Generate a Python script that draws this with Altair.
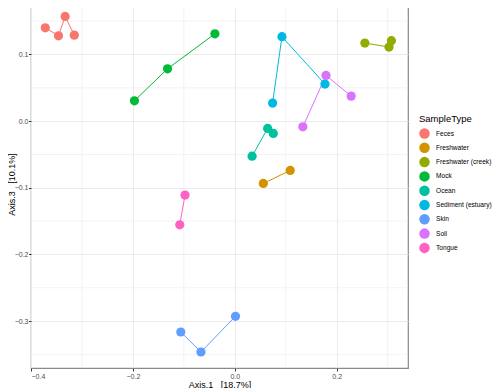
import altair as alt
import pandas as pd

sample_type = (["Feces"] * 4 + ["Freshwater"] * 2 + ["Freshwater (creek)"] * 3 + ["Mock"] * 3
               + ["Ocean"] * 3 + ["Sediment (estuary)"] * 3 + ["Skin"] * 3 + ["Soil"] * 3 + ["Tongue"] * 2)
axis1 = [-0.372, -0.346, -0.333, -0.315,
         0.056, 0.1088,
         0.2553, 0.3074, 0.3027,
         -0.197, -0.132, -0.039,
         0.0645, 0.0756, 0.034,
         0.0926, 0.0742, 0.177,
         -0.106, -0.0664, 0.0014,
         0.179, 0.2285, 0.1336,
         -0.0977, -0.108]
axis3 = [0.140, 0.128, 0.157, 0.129,
         -0.0935, -0.074,
         0.1171, 0.1206, 0.1111,
         0.0305, 0.0785, 0.131,
         -0.011, -0.0185, -0.0526,
         0.1266, 0.027, 0.0556,
         -0.3164, -0.3464, -0.2928,
         0.0686, 0.0375, -0.0086,
         -0.111, -0.1556]

categories = ["Feces", "Freshwater", "Freshwater (creek)", "Mock", "Ocean",
              "Sediment (estuary)", "Skin", "Soil", "Tongue"]
palette = ["#F8766D", "#D39200", "#93AA00", "#00BA38", "#00C19F",
           "#00B9E3", "#619CFF", "#DB72FB", "#FF61C3"]

x_major = [-0.4, -0.2, 0.0, 0.2]
y_major = [-0.3, -0.2, -0.1, 0.0, 0.1]
x_minor = [-0.3, -0.1, 0.1, 0.3]
y_minor = [-0.35, -0.25, -0.15, -0.05, 0.05, 0.15]

df = pd.DataFrame({"SampleType": sample_type, "Axis1": axis1, "Axis3": axis3})
xgrid = pd.DataFrame({"v": x_minor})
ygrid = pd.DataFrame({"v": y_minor})

x_dom = [-0.400, 0.340]
y_dom = [-0.3704, 0.1817]

xscale = alt.Scale(domain=x_dom, nice=False, zero=False, padding=0)
yscale = alt.Scale(domain=y_dom, nice=False, zero=False, padding=0)

xaxis = alt.Axis(title="Axis.1\u00a0\u00a0\u00a0[18.7%]", values=x_major, format=".1f",
                 grid=True, gridColor="#EBEBEB", gridWidth=1, domain=False,
                 tickColor="#333333", tickSize=3, labelColor="#4D4D4D", labelFontSize=7,
                 labelPadding=1, titleFontSize=9, titleFontWeight="normal", titleColor="#000000",
                 titlePadding=1)
yaxis = alt.Axis(title="Axis.3\u00a0\u00a0\u00a0[10.1%]", values=y_major, format=".1f",
                 grid=True, gridColor="#EBEBEB", gridWidth=1, domain=False,
                 tickColor="#333333", tickSize=2.5, labelColor="#4D4D4D", labelFontSize=7,
                 labelPadding=0.5, titleFontSize=9, titleFontWeight="normal", titleColor="#000000",
                 titleX=-15, titleY=184, titleAngle=270, titleBaseline="bottom", titleAlign="center")

legend = alt.Legend(title="SampleType", orient="none", legendX=388, legendY=114,
                    symbolType="circle", symbolSize=110, symbolStrokeWidth=0,
                    labelFontSize=6.6, titleFontSize=9.5, titleFontWeight="normal",
                    titleColor="#000000", labelColor="#000000", rowPadding=3.3,
                    titlePadding=4.5, labelOffset=6)

vgrid = alt.Chart(xgrid).mark_rule(color="#EBEBEB", strokeWidth=0.6).encode(
    x=alt.X("v:Q", scale=xscale, axis=xaxis))
hgrid = alt.Chart(ygrid).mark_rule(color="#EBEBEB", strokeWidth=0.6).encode(
    y=alt.Y("v:Q", scale=yscale, axis=yaxis))

color_scale = alt.Scale(domain=categories, range=palette)

lines = alt.Chart(df).mark_line(strokeWidth=1).encode(
    x=alt.X("Axis1:Q", scale=xscale, axis=xaxis),
    y=alt.Y("Axis3:Q", scale=yscale, axis=yaxis),
    color=alt.Color("SampleType:N", scale=color_scale, legend=legend),
)
points = alt.Chart(df).mark_circle(size=85, opacity=1).encode(
    x=alt.X("Axis1:Q", scale=xscale, axis=xaxis),
    y=alt.Y("Axis3:Q", scale=yscale, axis=yaxis),
    color=alt.Color("SampleType:N", scale=color_scale, legend=legend),
)

chart = alt.layer(vgrid, hgrid, lines, points).properties(
    width=377, height=368,
    autosize=alt.AutoSizeParams(type="none"),
    padding={"left": 23, "top": -8, "right": 84, "bottom": 20},
).configure(
    font="Liberation Sans"
).configure_view(stroke="#8A8A8A", strokeWidth=1.2)

chart.save("out.html", embed_options={"renderer": "svg", "actions": False})
